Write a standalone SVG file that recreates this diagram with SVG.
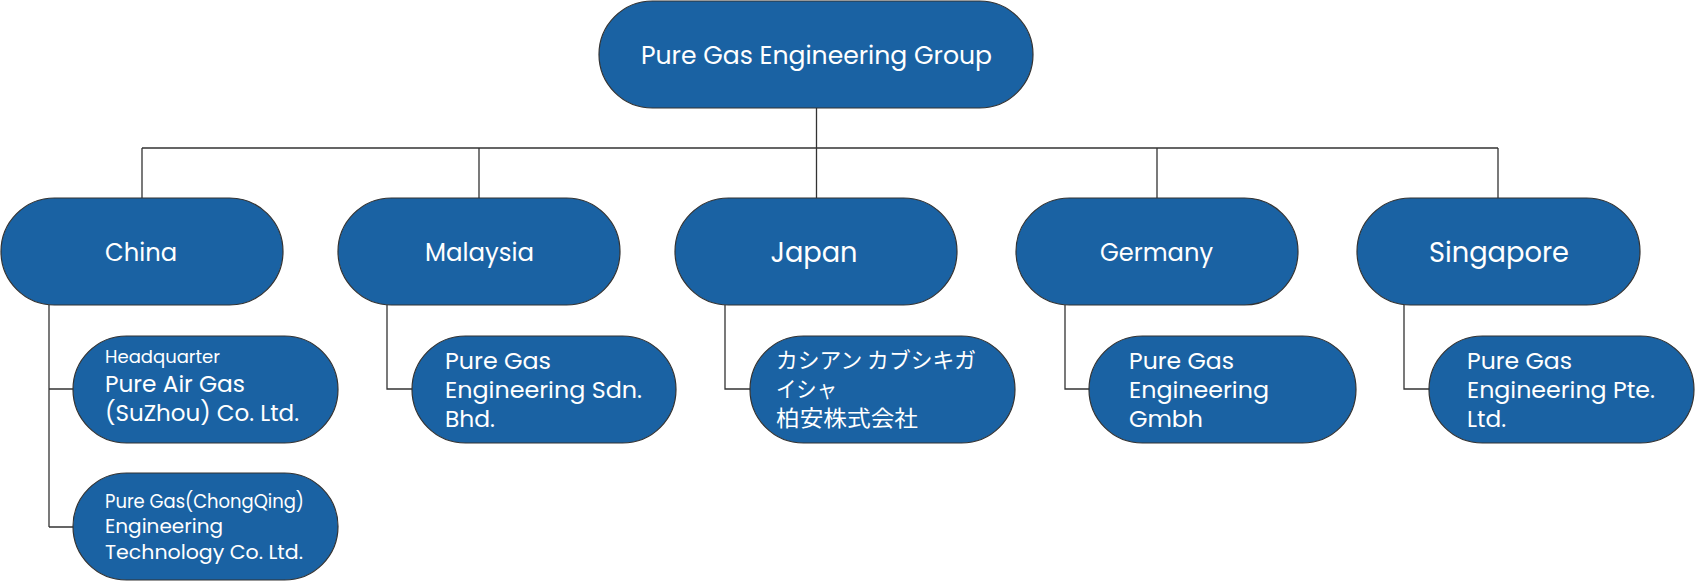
<svg xmlns="http://www.w3.org/2000/svg" width="1696" height="585" viewBox="0 0 1696 585">
<style>
.n{fill:#1a62a3;stroke:#333;stroke-width:1.2}
.t{fill:#fff;font-family:Poppins,"Noto Sans","Noto Sans CJK JP",sans-serif}
.c{text-anchor:middle}
.j{fill:#fff;font-family:"Noto Sans CJK JP",sans-serif;font-size:22px}
.ln{fill:none;stroke:#333;stroke-width:1.3}
</style>
<rect width="1696" height="585" fill="#fff"/>
<g id="connectors" class="ln">
<path d="M816.5 108V148M142 148H1498M142 148V198M479 148V198M816.5 148V198M1157 148V198M1498 148V198"/>
<path d="M49 305V527M49 389H73M49 527H73"/>
<path d="M387 305V389H412"/>
<path d="M725 305V389H750"/>
<path d="M1065 305V389H1089"/>
<path d="M1404 305V389H1429"/>
</g>
<g id="group">
<rect class="n" x="599" y="1" width="434" height="107" rx="53.5"/>
<text class="t c" x="816.5" y="64" font-size="25" textLength="351" lengthAdjust="spacingAndGlyphs">Pure Gas Engineering Group</text>
</g>
<g id="china">
<rect class="n" x="1" y="198" width="282" height="107" rx="53.5"/>
<text class="t c" x="141" y="261" font-size="25" textLength="72" lengthAdjust="spacingAndGlyphs">China</text>
</g>
<g id="malaysia">
<rect class="n" x="338" y="198" width="282" height="107" rx="53.5"/>
<text class="t c" x="479.5" y="261" font-size="25" textLength="109" lengthAdjust="spacingAndGlyphs">Malaysia</text>
</g>
<g id="japan">
<rect class="n" x="675" y="198" width="282" height="107" rx="53.5"/>
<text class="t c" x="814" y="262" font-size="28" textLength="87" lengthAdjust="spacingAndGlyphs">Japan</text>
</g>
<g id="germany">
<rect class="n" x="1016" y="198" width="282" height="107" rx="53.5"/>
<text class="t c" x="1156.5" y="261" font-size="25" textLength="113" lengthAdjust="spacingAndGlyphs">Germany</text>
</g>
<g id="singapore">
<rect class="n" x="1357" y="198" width="283" height="107" rx="53.5"/>
<text class="t c" x="1499" y="262" font-size="28" textLength="140" lengthAdjust="spacingAndGlyphs">Singapore</text>
</g>
<g id="china-suzhou">
<rect class="n" x="73" y="336" width="265" height="107" rx="53.5"/>
<text class="t" x="105" y="363" font-size="17" textLength="115" lengthAdjust="spacingAndGlyphs">Headquarter</text>
<text class="t" x="105" y="392" font-size="23" textLength="140" lengthAdjust="spacingAndGlyphs">Pure Air Gas</text>
<text class="t" x="105" y="421" font-size="23" textLength="194" lengthAdjust="spacingAndGlyphs">(SuZhou) Co. Ltd.</text>
</g>
<g id="china-chongqing">
<rect class="n" x="73" y="473" width="265" height="107" rx="53.5"/>
<text class="t" x="105" y="508" font-size="19" textLength="199" lengthAdjust="spacingAndGlyphs">Pure Gas(ChongQing)</text>
<text class="t" x="105" y="533" font-size="20" textLength="118" lengthAdjust="spacingAndGlyphs">Engineering</text>
<text class="t" x="105" y="559" font-size="20" textLength="198" lengthAdjust="spacingAndGlyphs">Technology Co. Ltd.</text>
</g>
<g id="malaysia-sub">
<rect class="n" x="412" y="336" width="264" height="107" rx="53.5"/>
<text class="t" x="445" y="369" font-size="23" textLength="106" lengthAdjust="spacingAndGlyphs">Pure Gas</text>
<text class="t" x="445" y="398" font-size="23" textLength="197" lengthAdjust="spacingAndGlyphs">Engineering Sdn.</text>
<text class="t" x="445" y="427" font-size="23" textLength="50" lengthAdjust="spacingAndGlyphs">Bhd.</text>
</g>
<g id="japan-sub">
<rect class="n" x="750" y="336" width="265" height="107" rx="53.5"/>
<text class="j" x="776" y="368" textLength="200" lengthAdjust="spacingAndGlyphs">カシアン カブシキガ</text>
<text class="j" x="776" y="397" textLength="61" lengthAdjust="spacingAndGlyphs">イシャ</text>
<text class="j" x="776" y="426" font-size="23.5" textLength="142" lengthAdjust="spacingAndGlyphs">柏安株式会社</text>
</g>
<g id="germany-sub">
<rect class="n" x="1089" y="336" width="267" height="107" rx="53.5"/>
<text class="t" x="1129" y="369" font-size="23" textLength="105" lengthAdjust="spacingAndGlyphs">Pure Gas</text>
<text class="t" x="1129" y="398" font-size="23" textLength="140" lengthAdjust="spacingAndGlyphs">Engineering</text>
<text class="t" x="1129" y="427" font-size="23" textLength="74" lengthAdjust="spacingAndGlyphs">Gmbh</text>
</g>
<g id="singapore-sub">
<rect class="n" x="1429" y="336" width="265" height="107" rx="53.5"/>
<text class="t" x="1467" y="369" font-size="23" textLength="105" lengthAdjust="spacingAndGlyphs">Pure Gas</text>
<text class="t" x="1467" y="398" font-size="23" textLength="188" lengthAdjust="spacingAndGlyphs">Engineering Pte.</text>
<text class="t" x="1467" y="427" font-size="23" textLength="39" lengthAdjust="spacingAndGlyphs">Ltd.</text>
</g>
</svg>
